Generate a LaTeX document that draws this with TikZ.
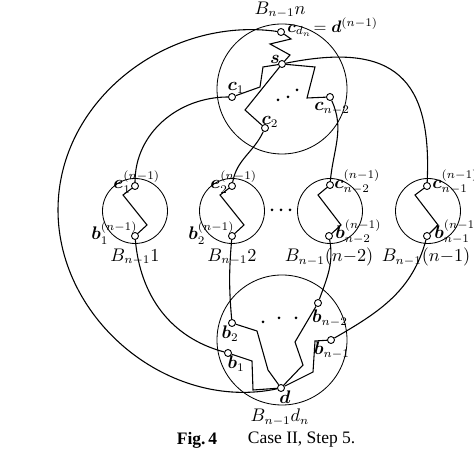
\documentclass[tikz,border=0pt]{standalone}
\usepackage{amsmath,bm}
\usepackage{fontspec}
\newfontfamily\capfont{Liberation Serif}
\begin{document}
\begin{tikzpicture}[x=0.6pt,y=0.6pt,
  vtx/.style={circle,draw,fill=white,inner sep=0pt,minimum size=4.2pt,line width=0.55pt},
  blk/.style={circle,draw,line width=0.5pt,inner sep=0pt},
  bigblk/.style={blk,minimum size=78pt},
  smallblk/.style={blk,minimum size=39pt},
  edge/.style={line width=0.65pt},
  zz/.style={line width=0.65pt},
  lbl/.style={inner sep=0pt,font=\fontsize{10.5}{12}\selectfont},
  blbl/.style={inner sep=0pt,font=\fontsize{10.5}{12}\selectfont},
  dotn/.style={circle,fill,inner sep=0pt,minimum size=1.8pt}]
\useasboundingbox (0,0) rectangle (474,459);
% block circles
\node[bigblk] (Btop) at (282,370) {};
\node[bigblk] (Bbot) at (282,119) {};
\node[smallblk] (B1) at (135,248) {};
\node[smallblk] (B2) at (232,248) {};
\node[smallblk] (B3) at (330,248) {};
\node[smallblk] (B4) at (428,248) {};
% block labels
\node[blbl] (lBtop) at (280,449) {$B_{n{-}1}n$};
\node[blbl] (lBbot) at (280,42) {$B_{n{-}1}d_n$};
\node[blbl] (lB1) at (135,202) {$B_{n{-}1}1$};
\node[blbl] (lB2) at (232,202) {$B_{n{-}1}2$};
\node[blbl] (lB3) at (329,202) {$B_{n{-}1}(n{-}2)$};
\node[blbl] (lB4) at (426,202) {$B_{n{-}1}(n{-}1)$};
% top vertices
\node[vtx] (cdn) at (281,427) {};
\node[vtx] (s) at (282,395) {};
\node[vtx] (c1) at (232,362) {};
\node[vtx] (c2) at (265,331) {};
\node[vtx] (cn2) at (330,362) {};
\node[lbl,anchor=west,font=\selectfont] (lcdn) at (287,432) {$\bm{c}_{d_n}\!=\bm{d}^{(n-1)}$};
\node[lbl] (ls) at (275,400) {$\bm{s}$};
\node[lbl] (lc1) at (236,371) {$\bm{c}_1$};
\node[lbl] (lc2) at (270,337) {$\bm{c}_2$};
\node[lbl] (lcn2) at (332,350) {$\bm{c}_{n-2}$};
% middle vertices
\node[vtx] (e1) at (135,273) {};
\node[vtx] (b1p) at (135,223) {};
\node[vtx] (e2) at (232,273) {};
\node[vtx] (b2p) at (232,223) {};
\node[vtx] (cn2p) at (330,274) {};
\node[vtx] (bn2p) at (329,223) {};
\node[vtx] (cn1p) at (427,273) {};
\node[vtx] (bn1p) at (427,223) {};
\node[lbl,anchor=west] (le1) at (113,277) {$\bm{e}_1^{(n-1)}$};
\node[lbl,anchor=west] (lb1p) at (91,226) {$\bm{b}_1^{(n-1)}$};
\node[lbl,anchor=west] (le2) at (210,277) {$\bm{e}_2^{(n-1)}$};
\node[lbl,anchor=west] (lb2p) at (188,226) {$\bm{b}_2^{(n-1)}$};
\node[lbl,anchor=west] (lcn2p) at (334,277) {$\bm{c}_{n-2}^{(n-1)}$};
\node[lbl,anchor=west] (lbn2p) at (335,227) {$\bm{b}_{n-2}^{(n-1)}$};
\node[lbl,anchor=west] (lcn1p) at (432,277) {$\bm{c}_{n-1}^{(n-1)}$};
\node[lbl,anchor=west] (lbn1p) at (434,227) {$\bm{b}_{n-1}^{(n-1)}$};
% bottom vertices
\node[vtx] (b2) at (232,136) {};
\node[vtx] (b1) at (228,106) {};
\node[vtx] (d) at (281,71) {};
\node[vtx] (bn2) at (318,156) {};
\node[vtx] (bn1) at (331,119) {};
\node[lbl] (lb2) at (230,125) {$\bm{b}_2$};
\node[lbl] (lb1) at (236,95) {$\bm{b}_1$};
\node[lbl] (ld) at (285,62) {$\bm{d}$};
\node[lbl] (lbn2) at (330,141) {$\bm{b}_{n-2}$};
\node[lbl] (lbn1) at (332,109) {$\bm{b}_{n-1}$};
% dots
\node[dotn] (t1) at (278,359) {};
\node[dotn] (t2) at (288,362) {};
\node[dotn] (t3) at (297,369) {};
\node[dotn] (m1) at (272,249) {};
\node[dotn] (m2) at (281,249) {};
\node[dotn] (m3) at (290,249) {};
\node[dotn] (u1) at (263,137) {};
\node[dotn] (u2) at (279,141) {};
\node[dotn] (u3) at (296,141) {};
% top zigzags
\draw[zz] (cdn) -- (291,420) -- (270,415) -- (290,404) -- (s);
\draw[zz] (s) -- (263,392) -- (260,372) -- (c1);
\draw[zz] (s) -- (245,349) -- (c2);
\draw[zz] (s) -- (315,392) -- (307,361) -- (cn2);
% middle zigzags
\draw[zz] (e1) -- (123,264) -- (147,234) -- (b1p);
\draw[zz] (e2) -- (220,264) -- (244,234) -- (b2p);
\draw[zz] (cn2p) -- (318,264) -- (341,234) -- (bn2p);
\draw[zz] (cn1p) -- (415,264) -- (438,234) -- (bn1p);
% bottom zigzags
\draw[zz] (b2) -- (257,128) -- (268,89) -- (d);
\draw[zz] (b1) -- (252,98) -- (253,69) -- (d);
\draw[zz] (bn2) -- (295,117) -- (303,94) -- (d);
\draw[zz] (bn1) -- (315,118) -- (313,87) -- (d);
% connectors
\coordinate (L) at (58,249);
\draw[edge] (cdn) to[out=172,in=90] (L) to[out=-90,in=192] (d);
\draw[edge] (c1) to[out=180,in=90] (e1);
\draw[edge] (b1p) to[out=-85,in=165] (b1);
\draw[edge] (c2) to[out=-115,in=80] (e2);
\draw[edge] (b2p) to[out=-95,in=95] (b2);
\draw[edge] (cn2) to[out=-65,in=85] (cn2p);
\draw[edge] (bn2p) to[out=-80,in=70] (bn2);
\draw[edge] (bn1p) to[out=-105,in=30] (bn1);
\draw[edge] (s) .. controls (395,418) and (432,380) .. (cn1p);
% caption
\node[font=\capfont\bfseries\fontsize{10.5}{12}\selectfont] (fig) at (197,19) {Fig.\,4};
\node[font=\capfont\fontsize{10.5}{12}\selectfont,anchor=west] (cap) at (242,19) {Case II, Step 5.};
\end{tikzpicture}
\end{document}
